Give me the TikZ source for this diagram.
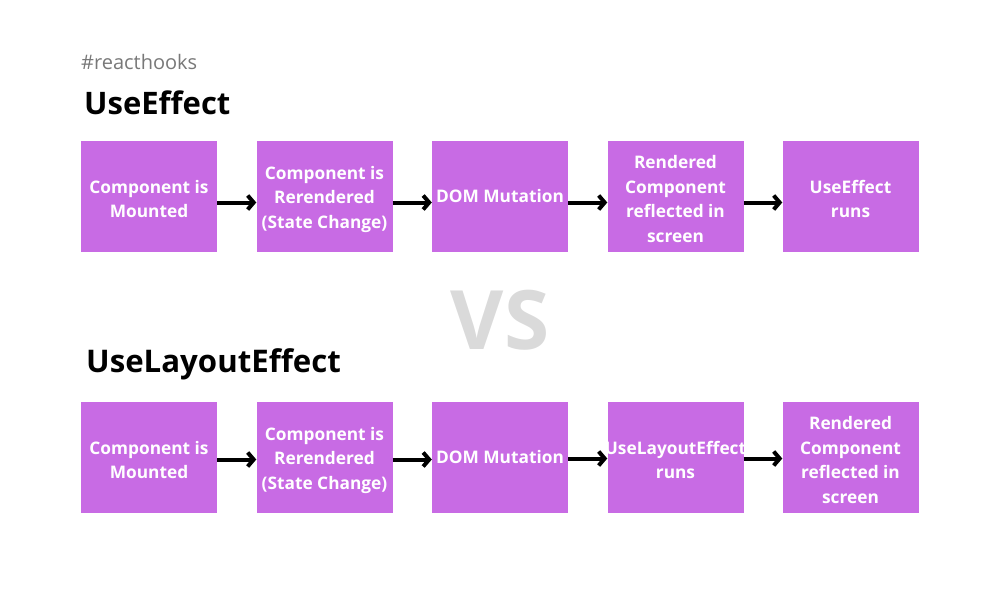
\documentclass[tikz,border=0pt]{standalone}
\usepackage{fontspec}
\setmainfont{Open Sans}
\usetikzlibrary{arrows.meta}
\usetikzlibrary{positioning}
\tikzset{stage/.style = {fill = mpurple, text = white, font = \bfseries\fontsize{17.3}{24.5}\selectfont, align = center, minimum width = 136, minimum height = 111, inner sep = 0}}
\tikzset{flow/.style = {line width = 4, -{Straight Barb[length = 6, width = 14, line width = 4]}}}
\newcommand{\topgap}{\rule{0pt}{18.6pt}}
\definecolor{mpurple}{RGB}{200, 107, 228}
\definecolor{mgray}{RGB}{120, 120, 120}
\definecolor{vsgray}{RGB}{218, 218, 218}

\begin{document}
\begin{tikzpicture}[x = 1pt, y = -1pt]
      \useasboundingbox (0, 0) rectangle (1000, 600);
      \node [anchor = west, text = mgray, font = \fontsize{20}{24}\selectfont, inner sep = 0] (tag) at (81, 62) {\#reacthooks};
      \node [anchor = west, font = \bfseries\fontsize{31}{36}\selectfont, inner sep = 0] (titleA) at (84, 103) {UseEffect};
      \node [anchor = west, font = \bfseries\fontsize{31.2}{36}\selectfont, inner sep = 0] (titleB) at (86, 364) {UseLayoutEffect};
      \node [text = vsgray, font = \bfseries\fontsize{82}{90}\selectfont, inner sep = 0] (vs) at (500, 320) {VS};
      % useEffect row
      \node [stage] (a1) at (149, 196.5) {\topgap Component is\\Mounted};
      \node [stage] (a2) at (324.5, 196.5) {\topgap Component is\\Rerendered\\(State Change)};
      \node [stage] (a3) at (500, 196.5) {DOM Mutation};
      \node [stage] (a4) at (675.5, 196.5) {\topgap Rendered\\Component\\reflected in\\screen};
      \node [stage] (a5) at (850.5, 196.5) {\topgap UseEffect\\runs};
      \draw [flow] ([yshift = -6]a1.east) -- ([yshift = -6]a2.west);
      \draw [flow] ([yshift = -6]a2.east) -- ([yshift = -6]a3.west);
      \draw [flow] ([yshift = -6]a3.east) -- ([yshift = -6]a4.west);
      \draw [flow] ([yshift = -6]a4.east) -- ([yshift = -6]a5.west);
      % useLayoutEffect row
      \node [stage] (b1) at (149, 457.5) {\topgap Component is\\Mounted};
      \node [stage] (b2) at (324.5, 457.5) {\topgap Component is\\Rerendered\\(State Change)};
      \node [stage] (b3) at (500, 457.5) {DOM Mutation};
      \node [stage] (b4) at (675.5, 457.5) {\topgap\makebox[120pt]{UseLayoutEffect}\\runs};
      \node [stage] (b5) at (850.5, 457.5) {\topgap Rendered\\Component\\reflected in\\screen};
      \draw [flow] ([yshift = -2]b1.east) -- ([yshift = -2]b2.west);
      \draw [flow] ([yshift = -2]b2.east) -- ([yshift = -2]b3.west);
      \draw [flow] ([yshift = -1]b3.east) -- ([yshift = -1]b4.west);
      \draw [flow] ([yshift = -1]b4.east) -- ([yshift = -1]b5.west);
    \end{tikzpicture}
\end{document}
